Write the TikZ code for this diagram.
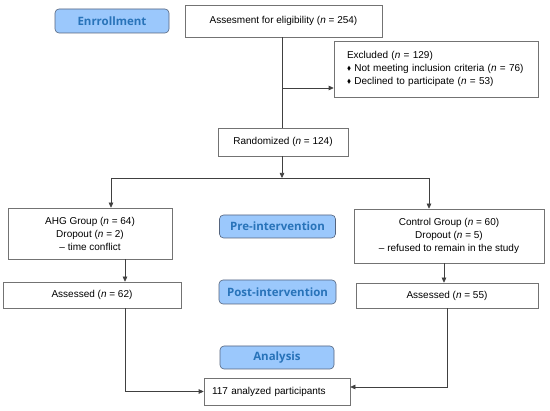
\documentclass[tikz,border=0pt]{standalone}
\usepackage{fontspec}
\usepackage{amssymb}
\setmainfont{Liberation Sans}
\newfontfamily\phasefont{Open Sans}
\usetikzlibrary{arrows.meta}
\definecolor{phasefill}{RGB}{155,200,252}
\definecolor{phasetext}{RGB}{40,115,185}
\definecolor{phaseline}{RGB}{85,100,125}
\newcommand{\bul}{\raisebox{1pt}{\scalebox{0.6}{$\blacklozenge$}}\ }
\begin{document}
\begin{tikzpicture}[x=1pt, y=-1pt,
        box/.style={draw=black!55, line width=0.6pt, inner sep=2pt, align=center, font=\fontsize{10}{13}\selectfont},
        phase/.style={draw=phaseline, fill=phasefill, line width=0.6pt, rounded corners=4pt, text=phasetext, font=\phasefont\bfseries\fontsize{11.5}{13}\selectfont},
        line/.style={draw=black!75, line width=0.6pt},
        arr/.style={-{Triangle[length=5pt,width=4.5pt]}}]
            \useasboundingbox (0,0) rectangle (550,411);
            
            % phase labels
            \node[phase, minimum width=114pt, minimum height=24pt] (EN) at (112,21) {Enrrollment};
            \node[phase, minimum width=116pt, minimum height=23pt] (PR) at (277.5,226.5) {Pre-intervention};
            \node[phase, minimum width=117pt, minimum height=24pt] (PO) at (277.5,292) {Post-intervention};
            \node[phase, minimum width=114pt, minimum height=23pt] (AN) at (277,357.5) {Analysis};
            
            % boxes
            \node[box, minimum width=197pt, minimum height=32pt] (AS) at (283.5,21) {Assesment for eligibility (\textit{n} = 254)};
            \node[box, text width=178pt, inner xsep=13pt, minimum height=56pt, align=left] (EX) at (436,69)
                {Excluded (\textit{n} = 129)\\
                 \bul Not meeting inclusion criteria (\textit{n} = 76)\\
                 \bul Declined to participate (\textit{n} = 53)};
            \node[box, minimum width=130pt, minimum height=28pt] (RA) at (283,142) {Randomized (\textit{n} = 124)};
            
            \node[box, minimum width=164pt, minimum height=51pt] (AH) at (90,233.5)
                {AHG Group (\textit{n} = 64)\\ Dropout (\textit{n} = 2)\\ -- time conflict};
            \node[box, minimum width=190pt, minimum height=54pt] (CO) at (449,236)
                {Control Group (\textit{n} = 60)\\ Dropout (\textit{n} = 5)\\ -- refused to remain in the study};
            
            \node[box, minimum width=178pt, minimum height=26pt] (AA) at (92,295) {Assessed (\textit{n} = 62)};
            \node[box, minimum width=182pt, minimum height=25pt] (AC) at (447,295.5) {Assessed (\textit{n} = 55)};
            
            \node[box, text width=130pt, inner xsep=8pt, minimum height=27pt, align=left] (FI) at (277,391.5) {117 analyzed participants};
            
            % connectors
            \coordinate (S) at (282,178);
            \coordinate (SL) at (111,178);
            \coordinate (SR) at (429,178);
            \coordinate (cA) at (125,0);
            \coordinate (cC) at (444,0);
            \coordinate (cD) at (447,0);
            \coordinate (EXin) at ([yshift=-19pt]EX.west);
            \coordinate (FIin) at ([yshift=4.5pt]FI.east);
            
            \draw[line] (AS.south -| S) -- (RA.north -| S);
            \draw[line, arr] (EXin -| S) -- (EXin);
            \draw[line, arr] (RA.south -| S) -- (S);
            \draw[line] (SL) -- (SR);
            \draw[line, arr] (SL) -- (SL |- AH.north);
            \draw[line, arr] (SR) -- (SR |- CO.north);
            \draw[line, arr] (AH.south -| cA) -- (AA.north -| cA);
            \draw[line, arr] (CO.south -| cC) -- (AC.north -| cC);
            \draw[line, arr] (AA.south -| cA) |- (FI.west);
            \draw[line, arr] (AC.south -| cD) |- (FIin);
        \end{tikzpicture}
\end{document}
